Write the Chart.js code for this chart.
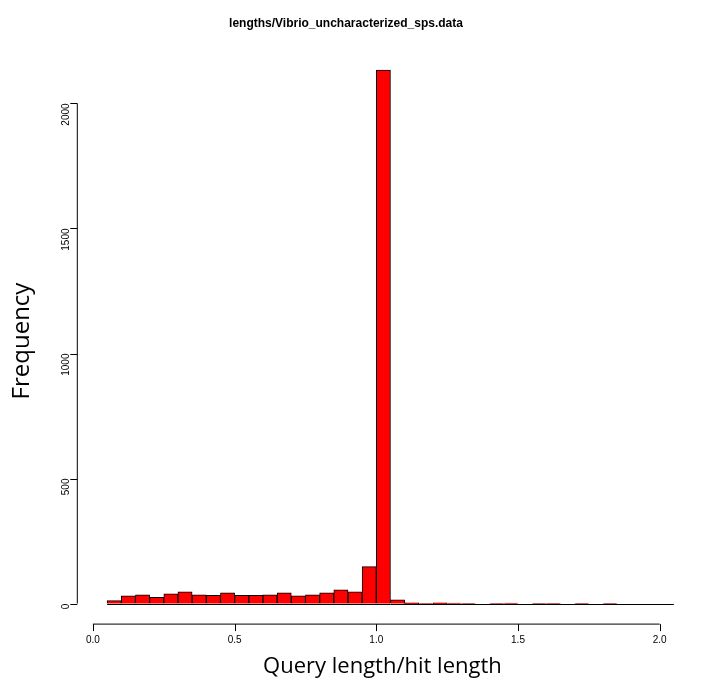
<!DOCTYPE html>
<html><head><meta charset="utf-8">
<script src="https://cdn.jsdelivr.net/npm/chart.js@4"></script>
<style>html,body{margin:0;background:#fff}#wrap{width:710px;height:692px}</style>
</head><body><div id="wrap"><canvas id="grafico"></canvas></div>
<script>
// bin starts (width 0.05) and counts
var binStarts = [0.05,0.10,0.15,0.20,0.25,0.30,0.35,0.40,0.45,0.50,0.55,0.60,0.65,0.70,0.75,0.80,0.85,0.90,0.95,1.00,1.05,1.10,1.15,1.20,1.25,1.30,1.35,1.40,1.45,1.50,1.55,1.60,1.65,1.70,1.75,1.80,1.85,1.90,1.95,2.00];
var counts = [12,31,35,25,39,47,35,33,43,33,33,35,43,31,35,43,55,47,148,2133,15,3,1,3,2,1,0,1,2,0,1,1,0,1,0,1,0,0,0,0];
var xTicks = [0, 0.5, 1, 1.5, 2];
var yTicks = [0, 500, 1000, 1500, 2000];

var pontos = binStarts.map(function (s, i) { return {x: +(s + 0.025).toFixed(3), y: counts[i]}; });

new Chart(document.getElementById('grafico').getContext('2d'), {
  type: 'bar',
  data: { datasets: [{
    data: pontos,
    backgroundColor: '#ff0000',
    borderColor: '#000000',
    borderWidth: 1,
    barPercentage: 1,
    categoryPercentage: 1,
    base: 0
  }]},
  options: {
    responsive: true, maintainAspectRatio: false, animation: false,
    layout: { padding: {top: 8, right: 22, bottom: 8, left: 4} },
    plugins: {
      legend: {display: false}, tooltip: {enabled: false},
      title: { display: true, text: 'lengths/Vibrio_uncharacterized_sps.data', color: '#000',
        font: {family: 'Liberation Sans', size: 12, weight: 'bold'}, padding: {top: 8, bottom: 28} }
    },
    scales: {
      x: {
        type: 'linear', min: -0.057, max: 2.1, offset: false,
        afterBuildTicks: function (ax) { ax.ticks = xTicks.map(function (v) { return {value: v}; }); },
        grid: {display: false, drawTicks: true},
        border: {display: false},
        ticks: { color: '#000', font: {family: 'Liberation Sans', size: 10}, maxRotation: 0,
          callback: function (v) { return v.toFixed(1); } },
        title: { display: true, text: 'Query length/hit length', color: '#000',
          font: {family: 'Open Sans', size: 22}, padding: {top: 4} }
      },
      y: {
        min: -80, max: 2180,
        afterBuildTicks: function (ax) { ax.ticks = yTicks.map(function (v) { return {value: v}; }); },
        grid: {display: false},
        border: {display: false},
        ticks: { color: '#000', font: {family: 'Liberation Sans', size: 10}, minRotation: 90, maxRotation: 90,
          callback: function (v) { return String(v); } },
        title: { display: true, text: 'Frequency', color: '#000',
          font: {family: 'Open Sans', size: 24}, padding: {bottom: 14} }
      }
    }
  },
  plugins: [{
    id: 'eixos',
    afterDraw: function (c) {
      var g = c.ctx, x = c.scales.x, y = c.scales.y;
      g.save(); g.strokeStyle = '#000'; g.lineWidth = 1;
      // R-style axis lines with ticks
      var ya = y.bottom + 0.5;
      g.beginPath(); g.moveTo(x.getPixelForValue(0), ya); g.lineTo(x.getPixelForValue(2), ya); g.stroke();
      xTicks.forEach(function (v) { var p = Math.round(x.getPixelForValue(v)) + 0.5;
        g.beginPath(); g.moveTo(p, ya); g.lineTo(p, ya + 7); g.stroke(); });
      var xa = x.left + 0.5;
      g.beginPath(); g.moveTo(xa, y.getPixelForValue(0)); g.lineTo(xa, y.getPixelForValue(2000)); g.stroke();
      yTicks.forEach(function (v) { var p = Math.round(y.getPixelForValue(v)) + 0.5;
        g.beginPath(); g.moveTo(xa, p); g.lineTo(xa - 7, p); g.stroke(); });
      // baseline under empty bins
      var b = Math.round(y.getPixelForValue(0)) + 0.5;
      g.beginPath(); g.moveTo(x.getPixelForValue(0.05), b); g.lineTo(x.getPixelForValue(2.05), b); g.stroke();
      g.restore();
    }
  }]
});
</script></body></html>
